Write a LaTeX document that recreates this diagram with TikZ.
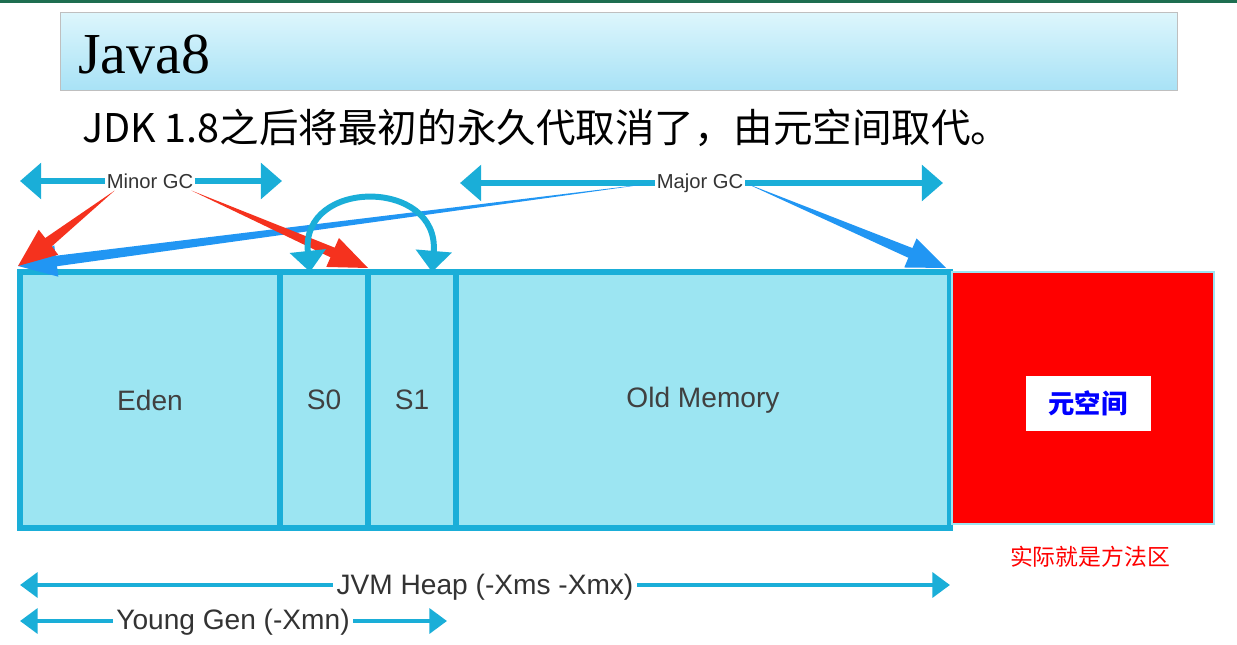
\documentclass[tikz,border=0pt]{standalone}
\usepackage{fontspec}
\setmainfont{Liberation Sans}
\newfontfamily\cjk{Noto Sans CJK SC}
\newfontfamily\titlefont{Liberation Serif}
\usetikzlibrary{arrows.meta,calc}

\definecolor{heapfill}{HTML}{9CE5F2}
\definecolor{heapline}{HTML}{1AAED8}
\definecolor{gcblue}{HTML}{2196F3}
\definecolor{gcred}{HTML}{F5321E}
\definecolor{topgreen}{HTML}{1E6E50}
\definecolor{bartop}{HTML}{DDF6FC}
\definecolor{barbottom}{HTML}{A8E2F6}

\tikzset{
  region/.style={draw=heapline, line width=3pt, fill=heapfill, minimum height=256*0.02cm, inner sep=0pt, font=\fontsize{16}{18}\selectfont, text=black!75},
  span/.style={draw=heapline, line width=3.3pt, {Triangle[length=12pt,width=20pt]}-{Triangle[length=12pt,width=20pt]}},
  gclabel/.style={fill=white, inner sep=1pt, font=\fontsize{11.5}{13}\selectfont, text=black!80},
  heaplabel/.style={fill=white, inner sep=2pt, font=\fontsize{16}{18}\selectfont, text=black!80},
}
% tapered arrow from #2 to #3
\newcommand{\wedgearrow}[3]{%
  \fill[#1] (#2) -- ($($(#3)!22pt!(#2)$)!3pt!90:(#3)$) -- ($($(#3)!22pt!(#2)$)!9pt!90:(#3)$)
    -- (#3) -- ($($(#3)!22pt!(#2)$)!9pt!-90:(#3)$) -- ($($(#3)!22pt!(#2)$)!3pt!-90:(#3)$) -- cycle;}

\begin{document}
\begin{tikzpicture}[x=0.02cm, y=-0.02cm]
\useasboundingbox (0,0) rectangle (1237,645);
\fill[topgreen] (0,0) rectangle (1237,3);

% title bar
\node[draw=black!25, top color=bartop, bottom color=barbottom, minimum width=1117*0.02cm, minimum height=78*0.02cm, anchor=north west] (bar) at (60,12) {};
\node[anchor=west, font=\titlefont\fontsize{33}{36}\selectfont] (title) at (72,55) {Java8};
\node[anchor=west, font=\cjk\fontsize{22.5}{26}\selectfont] (sub) at (76,128) {JDK 1.8之后将最初的永久代取消了，由元空间取代。};

% heap regions
\node[region, minimum width=260*0.02cm] (eden) at (150,400) {Eden};
\node[region, minimum width=88*0.02cm] (s0) at (324,400) {S0};
\node[region, minimum width=88*0.02cm] (s1) at (412,400) {S1};
\node[region, minimum width=494*0.02cm] (old) at (703,400) {Old Memory};
\node[draw=heapfill, line width=1.5pt, fill=red, minimum width=262*0.02cm, minimum height=252*0.02cm] (meta) at (1083,398) {};
\node[fill=white, minimum width=125*0.02cm, minimum height=55*0.02cm, text=blue, font=\cjk\bfseries\fontsize{15}{18}\selectfont] (metatext) at (1088,403) {元空间};
\node[text=red, font=\cjk\fontsize{13}{16}\selectfont] (method) at (1090,557) {实际就是方法区};

% GC spans
\coordinate (minorL) at (20,181);
\coordinate (minorR) at (282,181);
\draw[span] (minorL) -- (minorR);
\node[gclabel] (minor) at (150,181) {Minor GC};
\coordinate (majorL) at (460,183);
\coordinate (majorR) at (943,183);
\draw[span] (majorL) -- (majorR);
\node[gclabel] (major) at (700,183) {Major GC};

% GC arrows
\coordinate (edenTop) at (18,266);
\coordinate (s0Top) at (368,268);
\coordinate (oldTop) at (946,268);
\wedgearrow{gcblue}{major.west}{edenTop}
\wedgearrow{gcblue}{major.east}{oldTop}
\wedgearrow{gcred}{$(minor.south west)+(10,0)$}{edenTop}
\wedgearrow{gcred}{$(minor.south east)+(-4,0)$}{s0Top}

% survivor swap
\coordinate (swapA) at (310,272);
\coordinate (swapB) at (432,272);
\draw[draw=heapline, line width=3.4pt, {Triangle[length=12pt,width=20pt]}-{Triangle[length=12pt,width=20pt]}]
  (swapA) .. controls (300,178) and (440,178) .. (swapB);

% sizes
\coordinate (jvmL) at (20,585);
\coordinate (jvmR) at (950,585);
\draw[span, line width=2.5pt, {Triangle[length=10pt,width=14pt]}-{Triangle[length=10pt,width=14pt]}] (jvmL) -- (jvmR);
\node[heaplabel] (jvm) at (485,587) {JVM Heap (-Xms -Xmx)};
\coordinate (youngL) at (20,621);
\coordinate (youngR) at (447,621);
\draw[span, line width=2.5pt, {Triangle[length=10pt,width=14pt]}-{Triangle[length=10pt,width=14pt]}] (youngL) -- (youngR);
\node[heaplabel] (young) at (233,622) {Young Gen (-Xmn)};
\end{tikzpicture}
\end{document}
